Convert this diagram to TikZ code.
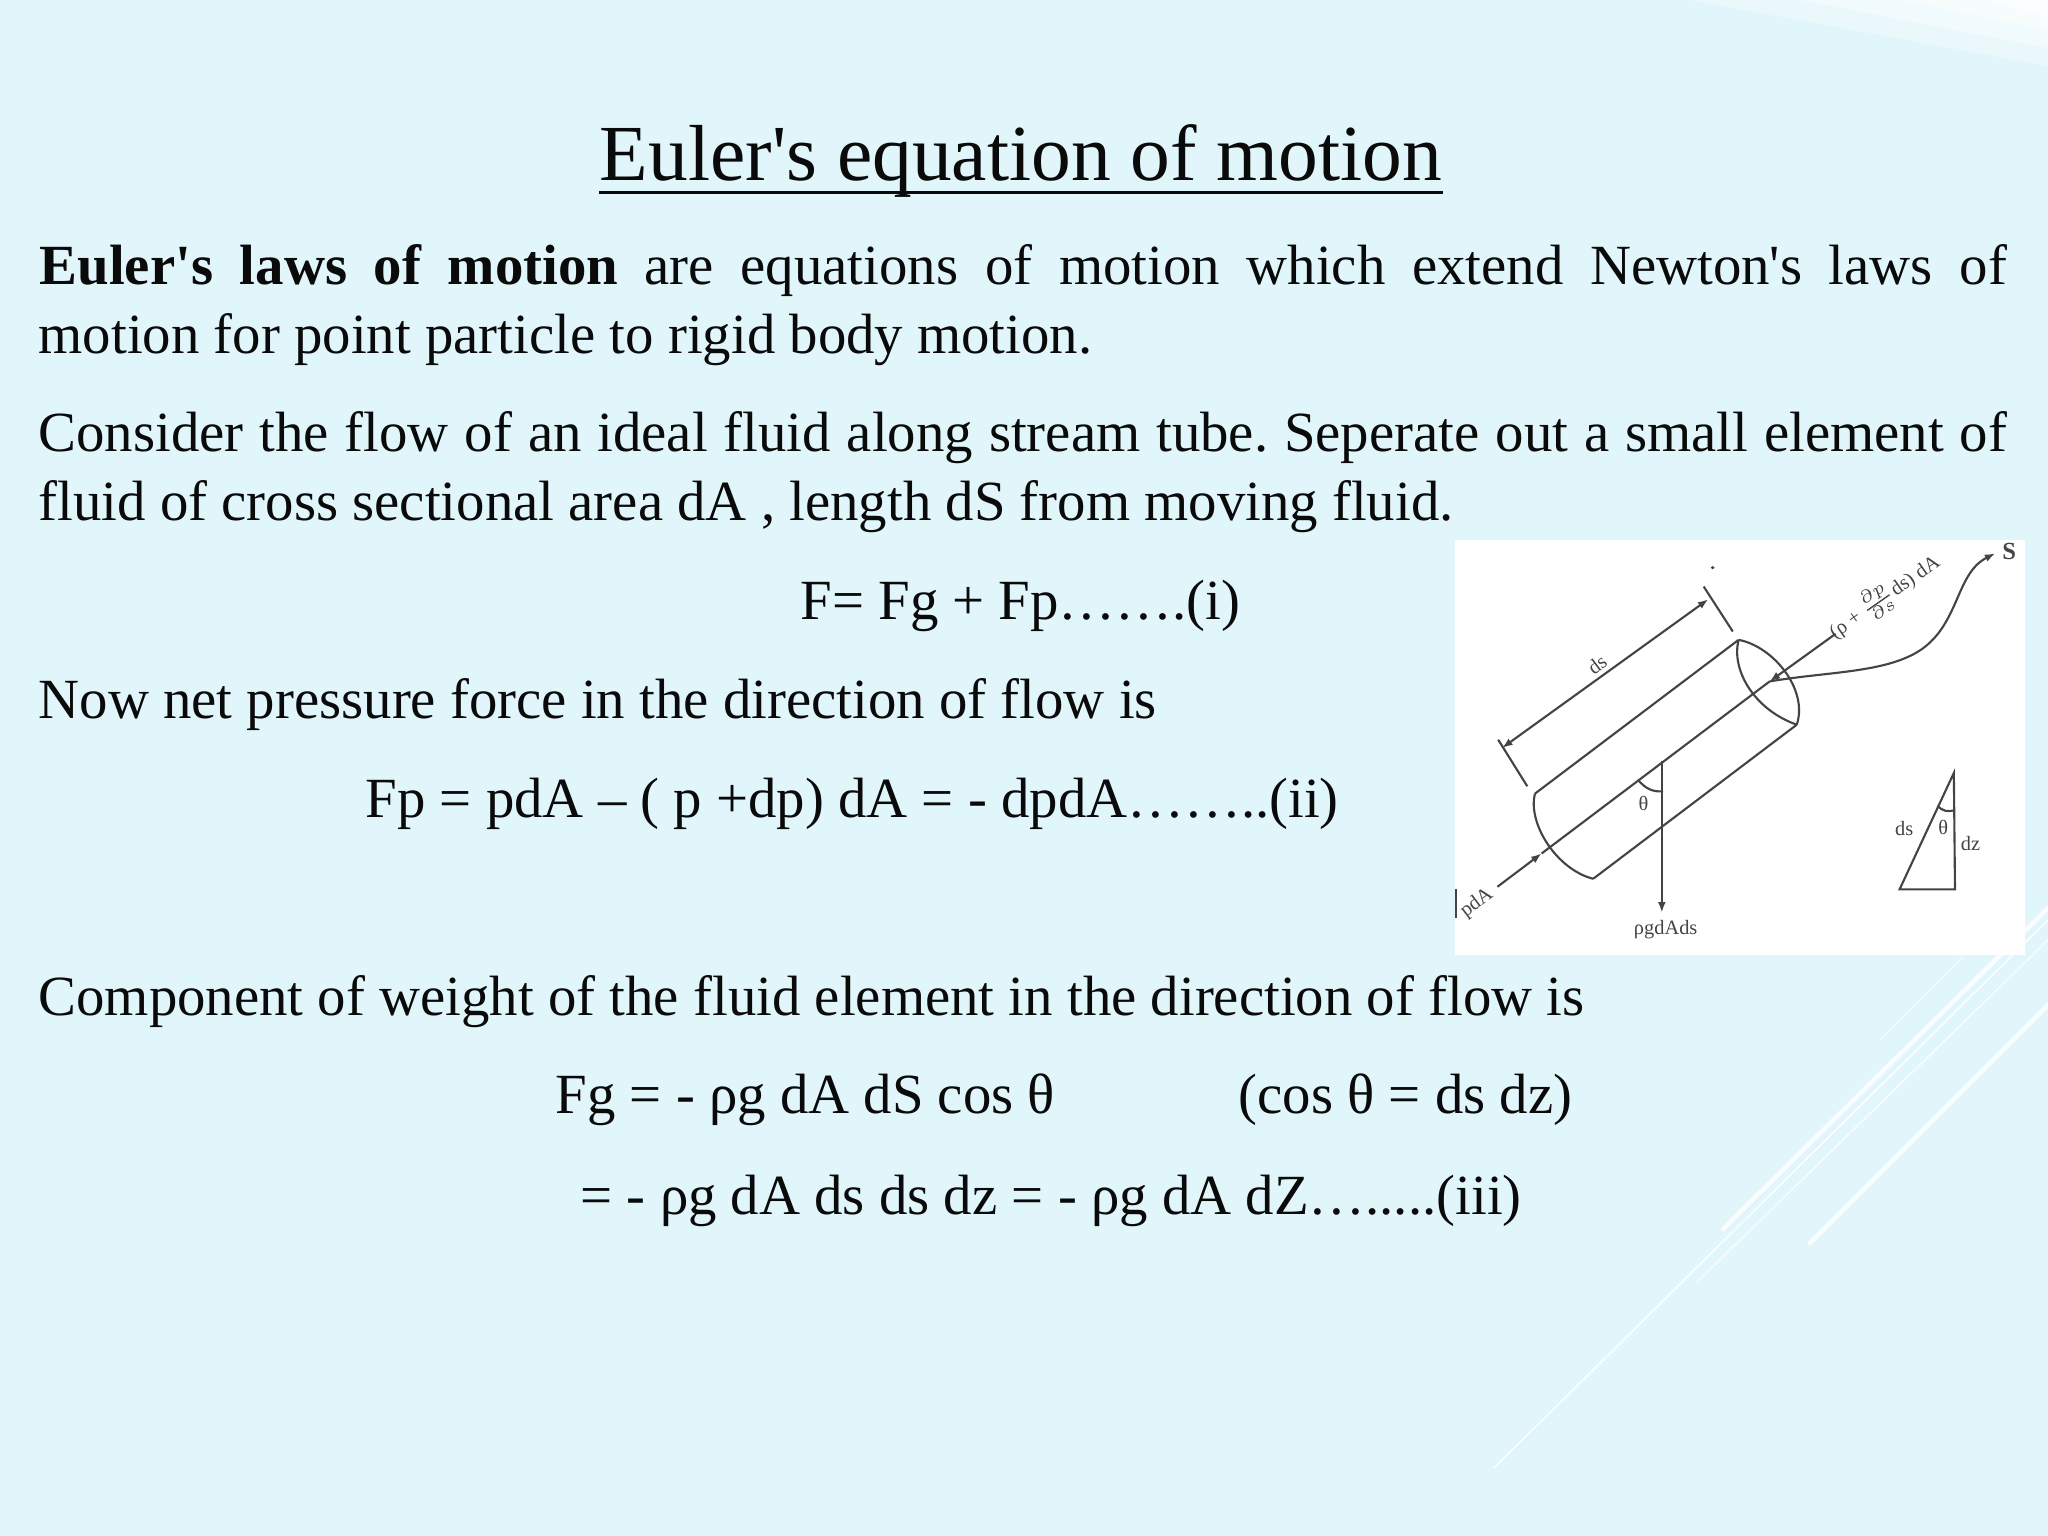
\documentclass[tikz,border=0pt]{standalone}
\usepackage{fontspec}
\usetikzlibrary{arrows.meta}
\newfontfamily\bodyf{Liberation Serif}
\definecolor{slidebg}{HTML}{E1F6FB}
\definecolor{ink}{HTML}{0A0A0A}
\definecolor{sketch}{HTML}{444444}
\tikzset{
  bodyline/.style={anchor=base west,inner sep=0pt,text=ink,font=\bodyf\frenchspacing\fontsize{16.15}{20}\selectfont},
  titleline/.style={anchor=base,inner sep=0pt,text=ink,font=\bodyf\fontsize{22.6}{30}\selectfont},
  sketchline/.style={draw=sketch,line width=0.6pt},
  sketchtext/.style={inner sep=0pt,text=sketch,font=\bodyf\fontsize{5.8}{7}\selectfont},
  sketchtip/.style={-{Latex[length=3pt,width=2.2pt]}},
  glowline/.style={draw=white,line cap=round}
}
\begin{document}
\begin{tikzpicture}[x=0.01cm,y=-0.01cm]
\useasboundingbox (0,0) rectangle (2048,1536);
\fill[slidebg] (0,0) rectangle (2048,1536);
% corner glow
\fill[white,opacity=.30] (1690,0) -- (2048,0) -- (2048,66) -- cycle;
\fill[white,opacity=.35] (1800,0) -- (2048,0) -- (2048,48) -- cycle;
\fill[white,opacity=.45] (1900,0) -- (2048,0) -- (2048,30) -- cycle;
\fill[white,opacity=.6] (1990,0) -- (2048,0) -- (2048,18) -- cycle;
% decorative lines
\draw[glowline,line width=1.3pt,opacity=.85] (1723,1229) -- (2048,908);
\draw[glowline,line width=1.3pt,opacity=.85] (1810,1243) -- (2048,1005);
\draw[glowline,line width=.5pt,opacity=.8] (1494,1468) -- (2048,920);
\draw[glowline,line width=.5pt,opacity=.7] (1696,1283) -- (2048,940);
\draw[glowline,line width=.35pt,opacity=.6] (1880,1040) -- (1963,957);
% text
\node[titleline] (title) at (1021,180) {Euler's equation of motion};
\draw[ink,line width=.85pt] ([yshift=-0.12cm]title.base west) -- ([yshift=-0.12cm]title.base east);
\node[bodyline] (l1) at (39,284) {\makebox[19.66cm][s]{\textbf{Euler's laws of motion} are equations of motion which extend Newton's laws of}};
\node[bodyline] (l2) at (38,353) {motion for point particle to rigid body motion.};
\node[bodyline] (l3) at (38,451) {\makebox[19.67cm][s]{Consider the flow of an ideal fluid along stream tube. Seperate out a small element of}};
\node[bodyline] (l4) at (38,520) {fluid of cross sectional area dA , length dS from moving fluid.};
\node[bodyline] (l5) at (800,619) {F= Fg + Fp…….(i)};
\node[bodyline] (l6) at (38,718) {Now net pressure force in the direction of flow is};
\node[bodyline] (l7) at (365,817) {Fp = pdA – ( p +dp) dA = - dpdA……..(ii)};
\node[bodyline] (l8) at (38,1015) {Component of weight of the fluid element in the direction of flow is};
\node[bodyline] (l9) at (555,1113) {Fg = - ρg dA dS cos θ};
\node[bodyline] (l10) at (1238,1113) {(cos θ = ds dz)};
\node[bodyline] (l11) at (580,1214) {= - ρg dA ds ds dz = - ρg dA dZ….....(iii)};
% figure
\fill[white] (1455,540) rectangle (2025,955);
\begin{scope}[shift={(1440,530)},x=0.003878cm,y=-0.003333cm]
  \coordinate (tl) at (245,792); \coordinate (tr) at (770,330);
  \coordinate (bl) at (395,1048); \coordinate (br) at (920,585);
  \draw[sketchline] (tl) -- (tr) (bl) -- (br);
  \draw[sketchline] (tl) .. controls (225,880) and (300,1020) .. (bl);
  \draw[sketchline] (tr) .. controls (860,350) and (950,480) .. (br);
  \draw[sketchline] (tr) .. controls (750,420) and (810,540) .. (br);
  % axis
  \coordinate (axA) at (148,1072); \coordinate (axB) at (262,972);
  \coordinate (axC) at (1020,312); \coordinate (axD) at (850,455);
  \draw[sketchline,sketchtip] (axA) -- (axB);
  \draw[sketchline] (axB) -- (axD);
  \draw[sketchline,sketchtip] (axC) -- (axD);
  % dimension
  \coordinate (d1) at (160,655); \coordinate (d2) at (692,208);
  \draw[sketchline,{Latex[length=3pt,width=2.2pt]}-{Latex[length=3pt,width=2.2pt]}] (d1) -- (d2);
  \draw[sketchline] (150,630) -- (225,770) (680,170) -- (755,305);
  \node[sketchtext,rotate=37] (ds1) at (405,405) {ds};
  % weight
  \coordinate (w1) at (572,695); \coordinate (w2) at (572,1150);
  \draw[sketchline,sketchtip] (w1) -- (w2);
  \draw[sketchline] (510,750) .. controls (530,778) and (550,788) .. (575,785);
  \node[sketchtext] (th1) at (525,822) {θ};
  \node[sketchtext] (wt) at (582,1200) {ρgdAds};
  % streamline
  \coordinate (s0) at (850,455); \coordinate (s1) at (1432,70);
  \draw[sketchline,sketchtip] (s0) .. controls (1000,425) and (1150,430) .. (1240,360)
     .. controls (1340,280) and (1330,130) .. (s1);
  \node[sketchtext,font=\bodyf\bfseries\fontsize{7}{8}\selectfont] (slab) at (1468,65) {S};
  \fill[sketch] (703,113) circle (5);
  % triangle
  \coordinate (t1) at (1325,730); \coordinate (t2) at (1185,1080); \coordinate (t3) at (1328,1080);
  \draw[sketchline] (t1) -- (t2) -- (t3) -- cycle;
  \draw[sketchline] (1283,828) .. controls (1295,845) and (1310,848) .. (1327,842);
  \node[sketchtext] (th2) at (1298,893) {θ};
  \node[sketchtext] (ds2) at (1197,897) {ds};
  \node[sketchtext] (dz) at (1368,943) {dz};
  % labels
  \draw[sketchline] (42,1078) -- (42,1165);
  \node[sketchtext,rotate=37] (pda) at (95,1122) {pdA};
  \node[sketchtext,rotate=35] (pds) at (1145,200) {(ρ + $\frac{\partial p}{\partial s}$ds) dA};
\end{scope}
\end{tikzpicture}
\end{document}
